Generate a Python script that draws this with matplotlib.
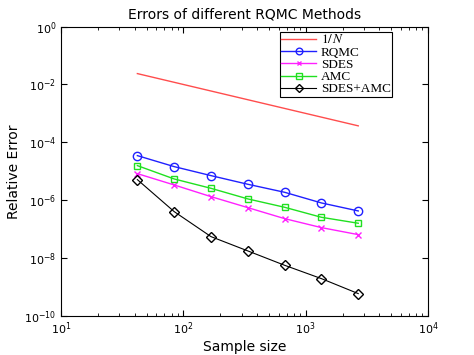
import numpy as np
import matplotlib
matplotlib.use("Agg")
import matplotlib.pyplot as plt

# Tamaños de muestra y errores
tamanos = [42, 84, 168, 336, 672, 1344, 2688]
ref_1_n = [1.0 / n for n in tamanos]
err_rqmc = [3.48e-5, 1.45e-5, 7.08e-6, 3.56e-6, 1.88e-6, 8.05e-7, 4.26e-7]
err_sdes = [8.3e-6, 3.37e-6, 1.33e-6, 5.55e-7, 2.31e-7, 1.13e-7, 6.47e-8]
err_amc = [1.57e-5, 5.43e-6, 2.58e-6, 1.11e-6, 5.70e-7, 2.57e-7, 1.60e-7]
err_sdes_amc = [5.15e-6, 4.04e-7, 5.52e-8, 1.77e-8, 5.64e-9, 1.95e-9, 5.92e-10]

plt.rcParams["mathtext.fontset"] = "stix"

fig = plt.figure(figsize=(4.74, 3.55), dpi=100)
ax = fig.add_axes([0.129, 0.110, 0.774, 0.815])

ax.loglog(tamanos, ref_1_n, color="#ff4d4d", lw=1.0, label=r"$1/\,N$")
ax.loglog(tamanos, err_rqmc, color="#2020ff", lw=1.0, marker="o", ms=6,
          mfc="none", label="RQMC")
ax.loglog(tamanos, err_sdes, color="#ff20ff", lw=1.0, marker="x", ms=4,
          label="SDES")
ax.loglog(tamanos, err_amc, color="#20e020", lw=1.0, marker="s", ms=5,
          mfc="none", label="AMC")
ax.loglog(tamanos, err_sdes_amc, color="black", lw=0.8, marker="D", ms=5,
          mfc="none", label="SDES+AMC")

ax.set_xlim(10, 1e4)
ax.set_ylim(1e-10, 1)
ax.set_yticks([1e-10, 1e-8, 1e-6, 1e-4, 1e-2, 1])
ax.set_xlabel("Sample size", fontsize=10, labelpad=2)
ax.set_ylabel("Relative Error", fontsize=10, labelpad=2)
ax.set_title("Errors of different RQMC Methods", fontsize=10)
ax.tick_params(which="both", direction="in", top=True, right=True, labelsize=8)
ax.tick_params(which="major", length=4)
ax.tick_params(which="minor", length=2)

leg = ax.legend(loc="upper right", bbox_to_anchor=(0.91, 0.99),
                prop={"family": "Liberation Serif", "size": 9.5},
                handlelength=2.6, labelspacing=0.0, borderpad=0.1,
                handletextpad=0.4, fancybox=False, framealpha=1,
                edgecolor="black", borderaxespad=0.2, markerscale=0.8)
leg.get_frame().set_linewidth(0.8)

plt.savefig("out.png", dpi=100)
plt.close()
